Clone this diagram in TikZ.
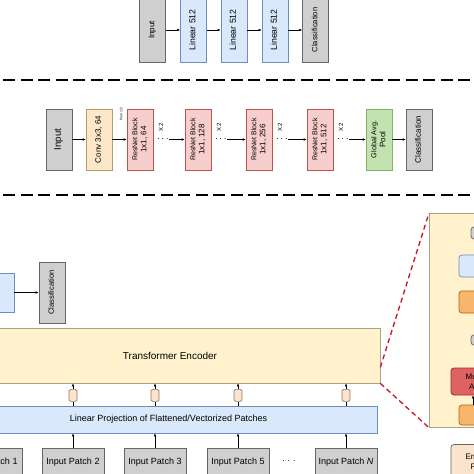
\documentclass[tikz,border=0pt]{standalone}
\usepackage{fontspec}
\setmainfont{Liberation Sans}
\usetikzlibrary{arrows.meta,positioning}

\definecolor{grayfill}{HTML}{CFCFCF}
\definecolor{grayline}{HTML}{666666}
\definecolor{bluefill}{HTML}{DAE8FC}
\definecolor{blueline}{HTML}{6C8EBF}
\definecolor{tanfill}{HTML}{FCE8C8}
\definecolor{tanline}{HTML}{B29D6C}
\definecolor{pinkfill}{HTML}{F8CECC}
\definecolor{pinkline}{HTML}{B85450}
\definecolor{greenfill}{HTML}{C2E3B0}
\definecolor{greenline}{HTML}{82B366}
\definecolor{tefill}{HTML}{FFF2CC}
\definecolor{teline}{HTML}{A6A38A}
\definecolor{tokfill}{HTML}{FCE4CC}
\definecolor{tokline}{HTML}{8C7A66}
\definecolor{orangefill}{HTML}{F8B56E}
\definecolor{orangeline}{HTML}{B46504}
\definecolor{redfill}{HTML}{DF6262}
\definecolor{redline}{HTML}{9E2A2A}
\definecolor{zoomred}{HTML}{C8102E}

\newcommand{\sidetext}[1]{\rotatebox{90}{\begin{tabular}{@{}c@{}}#1\end{tabular}}}
\newcommand{\fs}[1]{\fontsize{#1}{#1}\selectfont}

\begin{document}
\begin{tikzpicture}[x=1pt,y=-1pt,
        box/.style={draw=#1line, fill=#1fill, line width=0.7pt, minimum width=26pt, minimum height=61pt, inner sep=0pt, font=\fontsize{8}{9}\selectfont},
        arr/.style={-{Latex[length=3pt,width=2.6pt]}, line width=0.5pt},
        sep/.style={line width=2.6pt, dash pattern=on 12pt off 5.5pt},
        zoomline/.style={zoomred, line width=1.3pt, dash pattern=on 5pt off 3.5pt},
        token/.style={draw=tokline, fill=tokfill, line width=0.6pt, rounded corners=1.5pt, minimum width=8pt, minimum height=12pt, inner sep=0pt},
        patch/.style={draw=grayline, fill=grayfill, line width=0.7pt, minimum width=62pt, minimum height=28pt, inner sep=0pt, font=\fontsize{9}{11}\selectfont},
        part/.style={draw=#1line, fill=#1fill, line width=0.7pt, rounded corners=3pt, inner sep=0pt, font=\fontsize{8}{10}\selectfont, align=center},
        small/.style={inner sep=0.5pt, font=\fontsize{#1}{#1}\selectfont}]
    \path[use as bounding box, clip] (0,0) rectangle (474,474);

    % top: plain MLP
    \foreach \n/\x/\c/\t in {in1/152.5/gray/Input, lin1/193.5/blue/{\fs{8.7}Linear 512}, lin2/234/blue/{\fs{8.7}Linear 512}, lin3/275/blue/{\fs{8.7}Linear 512}, cls1/315.5/gray/{\fs{7.6}Classification}} {
        \node[box=\c, minimum height=64pt] (\n) at (\x,30) {\sidetext{\t}};
    }
    \foreach \a/\b in {in1/lin1, lin1/lin2, lin2/lin3, lin3/cls1} {
        \draw[arr] (\a) -- (\b);
    }
    \draw[sep] (3,80) -- (474,80);

    % middle: ResNet
    \foreach \n/\x/\c/\t in {in2/59/gray/{\fs{9.5}Input}, conv/99/tan/{Conv 3x3, 64}, rb1/140/pink/{\fontsize{7}{8.5}\selectfont ResNet Block\\1x1, 64}, rb2/198/pink/{\fontsize{7}{8.5}\selectfont ResNet Block\\1x1, 128}, rb3/259/pink/{\fontsize{7}{8.5}\selectfont ResNet Block\\1x1, 256}, rb4/320/pink/{\fontsize{7}{8.5}\selectfont ResNet Block\\1x1, 512}, gap/379/green/{\fontsize{7.2}{8.5}\selectfont Global Avg.\\Pool}, cls2/419/gray/Classification} {
        \node[box=\c] (\n) at (\x,139.5) {\sidetext{\t}};
    }
    \draw[arr] (in2) -- (conv);
    \draw[arr] (conv) -- (rb1);
    \node[small=3.5] (pool) at (121,114) {\rotatebox{90}{Pool 1/2}};
    \foreach \a/\b in {rb1/rb2, rb2/rb3, rb3/rb4, rb4/gap} {
        \node[small=6, above right=7pt and 5pt of \a.east] (x\a) {\rotatebox{90}{X 2}};
        \node[small=10, right=3pt of \a.east] (d\a) {$\cdots$};
        \draw[arr] (d\a) -- (\b);
    }
    \draw[arr] (gap) -- (cls2);
    \draw[sep] (3,195) -- (474,195);

    % bottom: ViT
    \node[box=blue, minimum width=34pt, minimum height=39pt] (enc) at (-3,292.5) {};
    \node[box=gray] (cls3) at (52,292.5) {\sidetext{\fs{7.6}Classification}};
    \draw[arr] (enc) -- (cls3);

    \node[draw=teline, fill=tefill, line width=0.7pt, minimum width=420pt, minimum height=55pt, font=\fontsize{10}{12}\selectfont] (te) at (170,355.5) {Transformer Encoder};
    \node[draw=blueline, fill=bluefill, line width=0.7pt, minimum width=417pt, minimum height=27pt, font=\fontsize{9}{11}\selectfont] (lp) at (168.5,419.5) {Linear Projection of Flattened/Vectorized Patches};

    \foreach \n/\x/\t in {p1/-9/1, p2/73/2, p3/155/3, p5/238/5, pn/346/\textit{N}} {
        \node[patch] (\n) at (\x,462) {Input Patch \t};
    }
    \node[small=9] (pdots) at (289,462) {· · ·};
    \foreach \n in {p2, p3, p5, pn} {
        \node[token, above=46pt of \n.north] (t\n) {};
        \draw[arr] (\n) -- (\n |- lp.south);
        \draw[line width=0.5pt] (lp.north -| t\n) -- (t\n);
        \draw[arr] (t\n) -- (t\n |- te.south);
    }

    % zoomed encoder block
    \node[draw=teline, fill=tefill, line width=0.7pt, minimum width=100pt, minimum height=214pt, anchor=north west] (zoom) at (429,213) {};
    \node[part=gray, minimum width=28pt, minimum height=12pt] (add2) at (485,233) {};
    \node[part=blue, minimum width=52pt, minimum height=22pt] (mlp) at (485,266) {};
    \node[part=orange, minimum width=52pt, minimum height=22pt] (norm2) at (485,302) {};
    \node[part=gray, minimum width=28pt, minimum height=10pt] (add1) at (485,340) {};
    \node[part=red, minimum width=68pt, minimum height=27pt] (att) at (485,381.5) {Multi-Head\\Attention};
    \node[part=orange, minimum width=52pt, minimum height=20pt] (norm1) at (485,415) {};
    \draw[arr] ([xshift=-12pt]norm1.north) -- ([xshift=-12pt]att.south);
    \node[part=tok, draw=grayline, minimum width=68pt, minimum height=35pt] (emb) at (485,462) {Embedded\\Patches};

    \draw[zoomline] ([yshift=16pt]te.south east) -- (zoom.north west);
    \draw[zoomline] (te.south east) -- (zoom.south west);
\end{tikzpicture}
\end{document}
